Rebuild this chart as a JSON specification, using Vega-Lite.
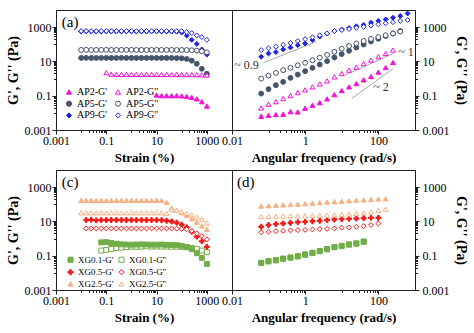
{
"$schema": "https://vega.github.io/schema/vega-lite/v6.json",
"padding": {"left": 5, "top": 8, "right": 0, "bottom": 0},
"datasets": {
"a": [
{"s":"AP2-G'","x":10,"y":0.11},{"s":"AP2-G'","x":15.8,"y":0.1},{"s":"AP2-G'","x":25.1,"y":0.1},{"s":"AP2-G'","x":39.8,"y":0.1},{"s":"AP2-G'","x":63.1,"y":0.1},{"s":"AP2-G'","x":100,"y":0.098},{"s":"AP2-G'","x":158,"y":0.09},{"s":"AP2-G'","x":251,"y":0.08},{"s":"AP2-G'","x":398,"y":0.066},{"s":"AP2-G'","x":631,"y":0.045},{"s":"AP2-G'","x":1000,"y":0.025},
{"s":"AP5-G'","x":0.01,"y":16},{"s":"AP5-G'","x":0.0158,"y":16.2},{"s":"AP5-G'","x":0.0251,"y":15.8},{"s":"AP5-G'","x":0.0398,"y":16},{"s":"AP5-G'","x":0.0631,"y":16.1},{"s":"AP5-G'","x":0.1,"y":16},{"s":"AP5-G'","x":0.158,"y":15.9},{"s":"AP5-G'","x":0.251,"y":16},{"s":"AP5-G'","x":0.398,"y":16.2},{"s":"AP5-G'","x":0.631,"y":16},{"s":"AP5-G'","x":1,"y":16},{"s":"AP5-G'","x":1.58,"y":15.9},{"s":"AP5-G'","x":2.51,"y":16},{"s":"AP5-G'","x":3.98,"y":16},{"s":"AP5-G'","x":6.31,"y":16.1},{"s":"AP5-G'","x":10,"y":16},{"s":"AP5-G'","x":15.8,"y":15.8},{"s":"AP5-G'","x":25.1,"y":16},{"s":"AP5-G'","x":39.8,"y":15.9},{"s":"AP5-G'","x":63.1,"y":15.6},{"s":"AP5-G'","x":100,"y":15.2},{"s":"AP5-G'","x":158,"y":14},{"s":"AP5-G'","x":251,"y":11},{"s":"AP5-G'","x":398,"y":7.3},{"s":"AP5-G'","x":631,"y":3.7},{"s":"AP5-G'","x":1000,"y":1.9},
{"s":"AP9-G'","x":0.01,"y":560},{"s":"AP9-G'","x":0.0158,"y":565},{"s":"AP9-G'","x":0.0251,"y":555},{"s":"AP9-G'","x":0.0398,"y":560},{"s":"AP9-G'","x":0.0631,"y":558},{"s":"AP9-G'","x":0.1,"y":562},{"s":"AP9-G'","x":0.158,"y":560},{"s":"AP9-G'","x":0.251,"y":555},{"s":"AP9-G'","x":0.398,"y":560},{"s":"AP9-G'","x":0.631,"y":565},{"s":"AP9-G'","x":1,"y":560},{"s":"AP9-G'","x":1.58,"y":558},{"s":"AP9-G'","x":2.51,"y":560},{"s":"AP9-G'","x":3.98,"y":555},{"s":"AP9-G'","x":6.31,"y":560},{"s":"AP9-G'","x":10,"y":562},{"s":"AP9-G'","x":15.8,"y":558},{"s":"AP9-G'","x":25.1,"y":555},{"s":"AP9-G'","x":39.8,"y":552},{"s":"AP9-G'","x":63.1,"y":545},{"s":"AP9-G'","x":100,"y":480},{"s":"AP9-G'","x":158,"y":320},{"s":"AP9-G'","x":251,"y":180},{"s":"AP9-G'","x":398,"y":105},{"s":"AP9-G'","x":631,"y":50},{"s":"AP9-G'","x":1000,"y":25},
{"s":"AP2-G''","x":0.1,"y":2.2},{"s":"AP2-G''","x":0.158,"y":1.8},{"s":"AP2-G''","x":0.251,"y":1.75},{"s":"AP2-G''","x":0.398,"y":1.75},{"s":"AP2-G''","x":0.631,"y":1.8},{"s":"AP2-G''","x":1,"y":1.75},{"s":"AP2-G''","x":1.58,"y":1.75},{"s":"AP2-G''","x":2.51,"y":1.75},{"s":"AP2-G''","x":3.98,"y":1.8},{"s":"AP2-G''","x":6.31,"y":1.75},{"s":"AP2-G''","x":10,"y":1.75},{"s":"AP2-G''","x":15.8,"y":1.75},{"s":"AP2-G''","x":25.1,"y":1.75},{"s":"AP2-G''","x":39.8,"y":1.7},{"s":"AP2-G''","x":63.1,"y":1.75},{"s":"AP2-G''","x":100,"y":1.7},{"s":"AP2-G''","x":158,"y":1.7},{"s":"AP2-G''","x":251,"y":1.7},{"s":"AP2-G''","x":398,"y":1.7},{"s":"AP2-G''","x":631,"y":1.65},{"s":"AP2-G''","x":1000,"y":1.6},
{"s":"AP5-G''","x":0.01,"y":47},{"s":"AP5-G''","x":0.0158,"y":47.5},{"s":"AP5-G''","x":0.0251,"y":46.5},{"s":"AP5-G''","x":0.0398,"y":47},{"s":"AP5-G''","x":0.0631,"y":47},{"s":"AP5-G''","x":0.1,"y":47.5},{"s":"AP5-G''","x":0.158,"y":47},{"s":"AP5-G''","x":0.251,"y":46.5},{"s":"AP5-G''","x":0.398,"y":47},{"s":"AP5-G''","x":0.631,"y":47},{"s":"AP5-G''","x":1,"y":47.5},{"s":"AP5-G''","x":1.58,"y":47},{"s":"AP5-G''","x":2.51,"y":47},{"s":"AP5-G''","x":3.98,"y":46.5},{"s":"AP5-G''","x":6.31,"y":47},{"s":"AP5-G''","x":10,"y":47},{"s":"AP5-G''","x":15.8,"y":47},{"s":"AP5-G''","x":25.1,"y":46.5},{"s":"AP5-G''","x":39.8,"y":47},{"s":"AP5-G''","x":63.1,"y":46.5},{"s":"AP5-G''","x":100,"y":46.5},{"s":"AP5-G''","x":158,"y":46},{"s":"AP5-G''","x":251,"y":45},{"s":"AP5-G''","x":398,"y":43},{"s":"AP5-G''","x":631,"y":39},{"s":"AP5-G''","x":1000,"y":34},
{"s":"AP9-G''","x":0.01,"y":590},{"s":"AP9-G''","x":0.0158,"y":595},{"s":"AP9-G''","x":0.0251,"y":588},{"s":"AP9-G''","x":0.0398,"y":590},{"s":"AP9-G''","x":0.0631,"y":592},{"s":"AP9-G''","x":0.1,"y":590},{"s":"AP9-G''","x":0.158,"y":588},{"s":"AP9-G''","x":0.251,"y":590},{"s":"AP9-G''","x":0.398,"y":595},{"s":"AP9-G''","x":0.631,"y":590},{"s":"AP9-G''","x":1,"y":590},{"s":"AP9-G''","x":1.58,"y":588},{"s":"AP9-G''","x":2.51,"y":590},{"s":"AP9-G''","x":3.98,"y":592},{"s":"AP9-G''","x":6.31,"y":590},{"s":"AP9-G''","x":10,"y":588},{"s":"AP9-G''","x":15.8,"y":590},{"s":"AP9-G''","x":25.1,"y":592},{"s":"AP9-G''","x":39.8,"y":588},{"s":"AP9-G''","x":63.1,"y":585},{"s":"AP9-G''","x":100,"y":583},{"s":"AP9-G''","x":158,"y":510},{"s":"AP9-G''","x":251,"y":450},{"s":"AP9-G''","x":398,"y":330},{"s":"AP9-G''","x":631,"y":262},{"s":"AP9-G''","x":1000,"y":182}
],
"b": [
{"s":"AP2-G'","x":0.0628,"y":0.0063},{"s":"AP2-G'","x":0.0995,"y":0.0072},{"s":"AP2-G'","x":0.158,"y":0.0079},{"s":"AP2-G'","x":0.25,"y":0.0083},{"s":"AP2-G'","x":0.396,"y":0.0117},{"s":"AP2-G'","x":0.628,"y":0.0113},{"s":"AP2-G'","x":0.995,"y":0.0186},{"s":"AP2-G'","x":1.58,"y":0.0278},{"s":"AP2-G'","x":2.5,"y":0.0395},{"s":"AP2-G'","x":3.96,"y":0.065},{"s":"AP2-G'","x":6.28,"y":0.116},{"s":"AP2-G'","x":9.95,"y":0.199},{"s":"AP2-G'","x":15.8,"y":0.327},{"s":"AP2-G'","x":25,"y":0.51},{"s":"AP2-G'","x":39.6,"y":0.84},{"s":"AP2-G'","x":62.8,"y":1.31},{"s":"AP2-G'","x":99.5,"y":2.37},{"s":"AP2-G'","x":158,"y":4.4},{"s":"AP2-G'","x":250,"y":8.6},
{"s":"AP5-G'","x":0.0628,"y":0.133},{"s":"AP5-G'","x":0.0995,"y":0.24},{"s":"AP5-G'","x":0.158,"y":0.41},{"s":"AP5-G'","x":0.25,"y":0.64},{"s":"AP5-G'","x":0.396,"y":1.1},{"s":"AP5-G'","x":0.628,"y":1.71},{"s":"AP5-G'","x":0.995,"y":2.7},{"s":"AP5-G'","x":1.58,"y":4.2},{"s":"AP5-G'","x":2.5,"y":6.6},{"s":"AP5-G'","x":3.96,"y":10.4},{"s":"AP5-G'","x":6.28,"y":16.9},{"s":"AP5-G'","x":9.95,"y":26.7},{"s":"AP5-G'","x":15.8,"y":41.7},{"s":"AP5-G'","x":25,"y":65},{"s":"AP5-G'","x":39.6,"y":97},{"s":"AP5-G'","x":62.8,"y":146},{"s":"AP5-G'","x":99.5,"y":209},{"s":"AP5-G'","x":158,"y":302},{"s":"AP5-G'","x":250,"y":428},{"s":"AP5-G'","x":396,"y":591},
{"s":"AP9-G'","x":0.0628,"y":18.6},{"s":"AP9-G'","x":0.0995,"y":29},{"s":"AP9-G'","x":0.158,"y":35},{"s":"AP9-G'","x":0.25,"y":50},{"s":"AP9-G'","x":0.396,"y":65},{"s":"AP9-G'","x":0.628,"y":89},{"s":"AP9-G'","x":0.995,"y":112},{"s":"AP9-G'","x":1.58,"y":178},{"s":"AP9-G'","x":2.5,"y":282},{"s":"AP9-G'","x":3.96,"y":417},{"s":"AP9-G'","x":6.28,"y":589},{"s":"AP9-G'","x":9.95,"y":724},{"s":"AP9-G'","x":15.8,"y":891},{"s":"AP9-G'","x":25,"y":1122},{"s":"AP9-G'","x":39.6,"y":1349},{"s":"AP9-G'","x":62.8,"y":1820},{"s":"AP9-G'","x":99.5,"y":2291},{"s":"AP9-G'","x":158,"y":2818},{"s":"AP9-G'","x":250,"y":3548},{"s":"AP9-G'","x":396,"y":4467},{"s":"AP9-G'","x":628,"y":6310},
{"s":"AP2-G''","x":0.0628,"y":0.0194},{"s":"AP2-G''","x":0.0995,"y":0.0318},{"s":"AP2-G''","x":0.158,"y":0.045},{"s":"AP2-G''","x":0.25,"y":0.068},{"s":"AP2-G''","x":0.396,"y":0.101},{"s":"AP2-G''","x":0.628,"y":0.152},{"s":"AP2-G''","x":0.995,"y":0.218},{"s":"AP2-G''","x":1.58,"y":0.327},{"s":"AP2-G''","x":2.5,"y":0.49},{"s":"AP2-G''","x":3.96,"y":0.73},{"s":"AP2-G''","x":6.28,"y":1.26},{"s":"AP2-G''","x":9.95,"y":1.96},{"s":"AP2-G''","x":15.8,"y":3.1},{"s":"AP2-G''","x":25,"y":4.6},{"s":"AP2-G''","x":39.6,"y":7.5},{"s":"AP2-G''","x":62.8,"y":11.9},{"s":"AP2-G''","x":99.5,"y":18.6},{"s":"AP2-G''","x":158,"y":29},{"s":"AP2-G''","x":250,"y":46},
{"s":"AP5-G''","x":0.0628,"y":1.0},{"s":"AP5-G''","x":0.0995,"y":1.48},{"s":"AP5-G''","x":0.158,"y":2.14},{"s":"AP5-G''","x":0.25,"y":3.09},{"s":"AP5-G''","x":0.396,"y":4.27},{"s":"AP5-G''","x":0.628,"y":5.89},{"s":"AP5-G''","x":0.995,"y":8.32},{"s":"AP5-G''","x":1.58,"y":11.7},{"s":"AP5-G''","x":2.5,"y":16.6},{"s":"AP5-G''","x":3.96,"y":24},{"s":"AP5-G''","x":6.28,"y":36.3},{"s":"AP5-G''","x":9.95,"y":55},{"s":"AP5-G''","x":15.8,"y":79.4},{"s":"AP5-G''","x":25,"y":112},{"s":"AP5-G''","x":39.6,"y":155},{"s":"AP5-G''","x":62.8,"y":204},{"s":"AP5-G''","x":99.5,"y":263},{"s":"AP5-G''","x":158,"y":339},{"s":"AP5-G''","x":250,"y":427},{"s":"AP5-G''","x":396,"y":550},
{"s":"AP9-G''","x":0.0628,"y":46},{"s":"AP9-G''","x":0.0995,"y":58},{"s":"AP9-G''","x":0.158,"y":72},{"s":"AP9-G''","x":0.25,"y":93},{"s":"AP9-G''","x":0.396,"y":120},{"s":"AP9-G''","x":0.628,"y":155},{"s":"AP9-G''","x":0.995,"y":200},{"s":"AP9-G''","x":1.58,"y":257},{"s":"AP9-G''","x":2.5,"y":331},{"s":"AP9-G''","x":3.96,"y":437},{"s":"AP9-G''","x":6.28,"y":589},{"s":"AP9-G''","x":9.95,"y":676},{"s":"AP9-G''","x":15.8,"y":776},{"s":"AP9-G''","x":25,"y":912},{"s":"AP9-G''","x":39.6,"y":1047},{"s":"AP9-G''","x":62.8,"y":1230},{"s":"AP9-G''","x":99.5,"y":1445},{"s":"AP9-G''","x":158,"y":1698},{"s":"AP9-G''","x":250,"y":1950},{"s":"AP9-G''","x":396,"y":2291},{"s":"AP9-G''","x":628,"y":2630}
],
"bl": [
{"x":0.0716,"y":8.3,"x2":1.97,"y2":140},
{"x":12.2,"y":1.58,"x2":255,"y2":29},
{"x":18.6,"y":0.068,"x2":255,"y2":3.85}
],
"bt": [
{"x":0.0115,"y":6.0,"t":"~ 0.9"},
{"x":350,"y":36,"t":"~ 1"},
{"x":72,"y":0.33,"t":"~ 2"}
],
"c": [
{"s":"XG0.1-G''","x":0.0631,"y":0.2},{"s":"XG0.1-G''","x":0.1,"y":0.22},{"s":"XG0.1-G''","x":0.158,"y":0.25},{"s":"XG0.1-G''","x":0.251,"y":0.28},{"s":"XG0.1-G''","x":0.398,"y":0.3},{"s":"XG0.1-G''","x":0.631,"y":0.32},{"s":"XG0.1-G''","x":1,"y":0.34},{"s":"XG0.1-G''","x":1.58,"y":0.33},{"s":"XG0.1-G''","x":2.51,"y":0.34},{"s":"XG0.1-G''","x":3.98,"y":0.35},{"s":"XG0.1-G''","x":6.31,"y":0.34},{"s":"XG0.1-G''","x":10,"y":0.34},{"s":"XG0.1-G''","x":15.8,"y":0.34},{"s":"XG0.1-G''","x":25.1,"y":0.34},{"s":"XG0.1-G''","x":39.8,"y":0.33},{"s":"XG0.1-G''","x":63.1,"y":0.33},{"s":"XG0.1-G''","x":100,"y":0.33},{"s":"XG0.1-G''","x":158,"y":0.31},{"s":"XG0.1-G''","x":251,"y":0.28},{"s":"XG0.1-G''","x":398,"y":0.25},{"s":"XG0.1-G''","x":631,"y":0.2},{"s":"XG0.1-G''","x":1000,"y":0.16},
{"s":"XG0.1-G'","x":0.0631,"y":0.6},{"s":"XG0.1-G'","x":0.1,"y":0.62},{"s":"XG0.1-G'","x":0.158,"y":0.55},{"s":"XG0.1-G'","x":0.251,"y":0.5},{"s":"XG0.1-G'","x":0.398,"y":0.46},{"s":"XG0.1-G'","x":0.631,"y":0.45},{"s":"XG0.1-G'","x":1,"y":0.44},{"s":"XG0.1-G'","x":1.58,"y":0.45},{"s":"XG0.1-G'","x":2.51,"y":0.46},{"s":"XG0.1-G'","x":3.98,"y":0.45},{"s":"XG0.1-G'","x":6.31,"y":0.44},{"s":"XG0.1-G'","x":10,"y":0.44},{"s":"XG0.1-G'","x":15.8,"y":0.45},{"s":"XG0.1-G'","x":25.1,"y":0.43},{"s":"XG0.1-G'","x":39.8,"y":0.42},{"s":"XG0.1-G'","x":63.1,"y":0.41},{"s":"XG0.1-G'","x":100,"y":0.38},{"s":"XG0.1-G'","x":158,"y":0.32},{"s":"XG0.1-G'","x":251,"y":0.24},{"s":"XG0.1-G'","x":398,"y":0.14},{"s":"XG0.1-G'","x":631,"y":0.075},{"s":"XG0.1-G'","x":1000,"y":0.033},
{"s":"XG0.5-G'","x":0.0158,"y":12},{"s":"XG0.5-G'","x":0.0251,"y":12.5},{"s":"XG0.5-G'","x":0.0398,"y":11.5},{"s":"XG0.5-G'","x":0.0631,"y":12},{"s":"XG0.5-G'","x":0.1,"y":12},{"s":"XG0.5-G'","x":0.158,"y":12},{"s":"XG0.5-G'","x":0.251,"y":12.2},{"s":"XG0.5-G'","x":0.398,"y":12},{"s":"XG0.5-G'","x":0.631,"y":12},{"s":"XG0.5-G'","x":1,"y":12},{"s":"XG0.5-G'","x":1.58,"y":12},{"s":"XG0.5-G'","x":2.51,"y":12},{"s":"XG0.5-G'","x":3.98,"y":12},{"s":"XG0.5-G'","x":6.31,"y":12},{"s":"XG0.5-G'","x":10,"y":12},{"s":"XG0.5-G'","x":15.8,"y":11.8},{"s":"XG0.5-G'","x":25.1,"y":11},{"s":"XG0.5-G'","x":39.8,"y":10},{"s":"XG0.5-G'","x":63.1,"y":8.5},{"s":"XG0.5-G'","x":100,"y":6.5},{"s":"XG0.5-G'","x":158,"y":4.5},{"s":"XG0.5-G'","x":251,"y":2.5},{"s":"XG0.5-G'","x":398,"y":1.3},{"s":"XG0.5-G'","x":631,"y":0.7},{"s":"XG0.5-G'","x":1000,"y":0.33},
{"s":"XG2.5-G'","x":0.01,"y":170},{"s":"XG2.5-G'","x":0.0158,"y":170},{"s":"XG2.5-G'","x":0.0251,"y":170},{"s":"XG2.5-G'","x":0.0398,"y":170},{"s":"XG2.5-G'","x":0.0631,"y":170},{"s":"XG2.5-G'","x":0.1,"y":170},{"s":"XG2.5-G'","x":0.158,"y":170},{"s":"XG2.5-G'","x":0.251,"y":170},{"s":"XG2.5-G'","x":0.398,"y":170},{"s":"XG2.5-G'","x":0.631,"y":170},{"s":"XG2.5-G'","x":1,"y":170},{"s":"XG2.5-G'","x":1.58,"y":170},{"s":"XG2.5-G'","x":2.51,"y":170},{"s":"XG2.5-G'","x":3.98,"y":170},{"s":"XG2.5-G'","x":6.31,"y":170},{"s":"XG2.5-G'","x":10,"y":170},{"s":"XG2.5-G'","x":15.8,"y":165},{"s":"XG2.5-G'","x":25.1,"y":130},{"s":"XG2.5-G'","x":39.8,"y":60},{"s":"XG2.5-G'","x":63.1,"y":45},{"s":"XG2.5-G'","x":100,"y":32},{"s":"XG2.5-G'","x":158,"y":22},{"s":"XG2.5-G'","x":251,"y":14},{"s":"XG2.5-G'","x":398,"y":9},{"s":"XG2.5-G'","x":631,"y":5.5},{"s":"XG2.5-G'","x":1000,"y":3.5},
{"s":"XG0.5-G''","x":0.0158,"y":3.9},{"s":"XG0.5-G''","x":0.0251,"y":3.9},{"s":"XG0.5-G''","x":0.0398,"y":3.9},{"s":"XG0.5-G''","x":0.0631,"y":3.9},{"s":"XG0.5-G''","x":0.1,"y":3.9},{"s":"XG0.5-G''","x":0.158,"y":3.9},{"s":"XG0.5-G''","x":0.251,"y":3.9},{"s":"XG0.5-G''","x":0.398,"y":3.9},{"s":"XG0.5-G''","x":0.631,"y":3.9},{"s":"XG0.5-G''","x":1,"y":3.9},{"s":"XG0.5-G''","x":1.58,"y":3.9},{"s":"XG0.5-G''","x":2.51,"y":3.9},{"s":"XG0.5-G''","x":3.98,"y":3.9},{"s":"XG0.5-G''","x":6.31,"y":3.9},{"s":"XG0.5-G''","x":10,"y":3.9},{"s":"XG0.5-G''","x":15.8,"y":3.9},{"s":"XG0.5-G''","x":25.1,"y":3.9},{"s":"XG0.5-G''","x":39.8,"y":3.9},{"s":"XG0.5-G''","x":63.1,"y":3.8},{"s":"XG0.5-G''","x":100,"y":3.7},{"s":"XG0.5-G''","x":158,"y":3.5},{"s":"XG0.5-G''","x":251,"y":2.8},{"s":"XG0.5-G''","x":398,"y":2.0},{"s":"XG0.5-G''","x":631,"y":1.4},{"s":"XG0.5-G''","x":1000,"y":0.9},
{"s":"XG2.5-G''","x":0.01,"y":32},{"s":"XG2.5-G''","x":0.0158,"y":32},{"s":"XG2.5-G''","x":0.0251,"y":32},{"s":"XG2.5-G''","x":0.0398,"y":32},{"s":"XG2.5-G''","x":0.0631,"y":32},{"s":"XG2.5-G''","x":0.1,"y":32},{"s":"XG2.5-G''","x":0.158,"y":32},{"s":"XG2.5-G''","x":0.251,"y":32},{"s":"XG2.5-G''","x":0.398,"y":32},{"s":"XG2.5-G''","x":0.631,"y":32},{"s":"XG2.5-G''","x":1,"y":32},{"s":"XG2.5-G''","x":1.58,"y":32},{"s":"XG2.5-G''","x":2.51,"y":32},{"s":"XG2.5-G''","x":3.98,"y":32},{"s":"XG2.5-G''","x":6.31,"y":32},{"s":"XG2.5-G''","x":10,"y":32},{"s":"XG2.5-G''","x":15.8,"y":32},{"s":"XG2.5-G''","x":25.1,"y":30},{"s":"XG2.5-G''","x":39.8,"y":50},{"s":"XG2.5-G''","x":63.1,"y":45},{"s":"XG2.5-G''","x":100,"y":38},{"s":"XG2.5-G''","x":158,"y":30},{"s":"XG2.5-G''","x":251,"y":24},{"s":"XG2.5-G''","x":398,"y":18},{"s":"XG2.5-G''","x":631,"y":13},{"s":"XG2.5-G''","x":1000,"y":8}
],
"d": [
{"s":"XG0.1-G''","x":0.0628,"y":0.037},{"s":"XG0.1-G''","x":0.0995,"y":0.046},{"s":"XG0.1-G''","x":0.158,"y":0.053},{"s":"XG0.1-G''","x":0.25,"y":0.065},{"s":"XG0.1-G''","x":0.396,"y":0.076},{"s":"XG0.1-G''","x":0.628,"y":0.09},{"s":"XG0.1-G''","x":0.995,"y":0.113},{"s":"XG0.1-G''","x":1.58,"y":0.142},{"s":"XG0.1-G''","x":2.5,"y":0.18},{"s":"XG0.1-G''","x":3.96,"y":0.235},{"s":"XG0.1-G''","x":6.28,"y":0.31},{"s":"XG0.1-G''","x":9.95,"y":0.36},{"s":"XG0.1-G''","x":15.8,"y":0.44},{"s":"XG0.1-G''","x":25,"y":0.5},{"s":"XG0.1-G''","x":39.6,"y":0.64},
{"s":"XG0.1-G'","x":0.0628,"y":0.039},{"s":"XG0.1-G'","x":0.0995,"y":0.049},{"s":"XG0.1-G'","x":0.158,"y":0.056},{"s":"XG0.1-G'","x":0.25,"y":0.069},{"s":"XG0.1-G'","x":0.396,"y":0.08},{"s":"XG0.1-G'","x":0.628,"y":0.095},{"s":"XG0.1-G'","x":0.995,"y":0.12},{"s":"XG0.1-G'","x":1.58,"y":0.15},{"s":"XG0.1-G'","x":2.5,"y":0.19},{"s":"XG0.1-G'","x":3.96,"y":0.25},{"s":"XG0.1-G'","x":6.28,"y":0.33},{"s":"XG0.1-G'","x":9.95,"y":0.38},{"s":"XG0.1-G'","x":15.8,"y":0.46},{"s":"XG0.1-G'","x":25,"y":0.53},{"s":"XG0.1-G'","x":39.6,"y":0.68},
{"s":"XG0.5-G'","x":0.0628,"y":4.9},{"s":"XG0.5-G'","x":0.0995,"y":6.2},{"s":"XG0.5-G'","x":0.158,"y":7.0},{"s":"XG0.5-G'","x":0.25,"y":7.6},{"s":"XG0.5-G'","x":0.396,"y":8.3},{"s":"XG0.5-G'","x":0.628,"y":9.0},{"s":"XG0.5-G'","x":0.995,"y":9.5},{"s":"XG0.5-G'","x":1.58,"y":10.2},{"s":"XG0.5-G'","x":2.5,"y":10.9},{"s":"XG0.5-G'","x":3.96,"y":12},{"s":"XG0.5-G'","x":6.28,"y":13},{"s":"XG0.5-G'","x":9.95,"y":13.6},{"s":"XG0.5-G'","x":15.8,"y":14.2},{"s":"XG0.5-G'","x":25,"y":14.8},{"s":"XG0.5-G'","x":39.6,"y":15.5},{"s":"XG0.5-G'","x":62.8,"y":16.3},{"s":"XG0.5-G'","x":99.5,"y":16.3},
{"s":"XG0.5-G''","x":0.0628,"y":2.3},{"s":"XG0.5-G''","x":0.0995,"y":2.5},{"s":"XG0.5-G''","x":0.158,"y":2.7},{"s":"XG0.5-G''","x":0.25,"y":2.8},{"s":"XG0.5-G''","x":0.396,"y":3.0},{"s":"XG0.5-G''","x":0.628,"y":3.1},{"s":"XG0.5-G''","x":0.995,"y":3.2},{"s":"XG0.5-G''","x":1.58,"y":3.4},{"s":"XG0.5-G''","x":2.5,"y":3.6},{"s":"XG0.5-G''","x":3.96,"y":3.7},{"s":"XG0.5-G''","x":6.28,"y":3.9},{"s":"XG0.5-G''","x":9.95,"y":4.3},{"s":"XG0.5-G''","x":15.8,"y":4.4},{"s":"XG0.5-G''","x":25,"y":4.9},{"s":"XG0.5-G''","x":39.6,"y":5.3},{"s":"XG0.5-G''","x":62.8,"y":6.2},{"s":"XG0.5-G''","x":99.5,"y":7.6},
{"s":"XG2.5-G'","x":0.0628,"y":78},{"s":"XG2.5-G'","x":0.0995,"y":82},{"s":"XG2.5-G'","x":0.158,"y":87},{"s":"XG2.5-G'","x":0.25,"y":91},{"s":"XG2.5-G'","x":0.396,"y":96},{"s":"XG2.5-G'","x":0.628,"y":101},{"s":"XG2.5-G'","x":0.995,"y":108},{"s":"XG2.5-G'","x":1.58,"y":115},{"s":"XG2.5-G'","x":2.5,"y":124},{"s":"XG2.5-G'","x":3.96,"y":134},{"s":"XG2.5-G'","x":6.28,"y":142},{"s":"XG2.5-G'","x":9.95,"y":150},{"s":"XG2.5-G'","x":15.8,"y":160},{"s":"XG2.5-G'","x":25,"y":170},{"s":"XG2.5-G'","x":39.6,"y":180},{"s":"XG2.5-G'","x":62.8,"y":190},{"s":"XG2.5-G'","x":99.5,"y":203},{"s":"XG2.5-G'","x":158,"y":215},
{"s":"XG2.5-G''","x":0.0628,"y":19},{"s":"XG2.5-G''","x":0.0995,"y":19.5},{"s":"XG2.5-G''","x":0.158,"y":20},{"s":"XG2.5-G''","x":0.25,"y":20.5},{"s":"XG2.5-G''","x":0.396,"y":21},{"s":"XG2.5-G''","x":0.628,"y":21},{"s":"XG2.5-G''","x":0.995,"y":21.5},{"s":"XG2.5-G''","x":1.58,"y":22},{"s":"XG2.5-G''","x":2.5,"y":22.5},{"s":"XG2.5-G''","x":3.96,"y":23},{"s":"XG2.5-G''","x":6.28,"y":24},{"s":"XG2.5-G''","x":9.95,"y":25},{"s":"XG2.5-G''","x":15.8,"y":27},{"s":"XG2.5-G''","x":25,"y":29},{"s":"XG2.5-G''","x":39.6,"y":32},{"s":"XG2.5-G''","x":62.8,"y":36},{"s":"XG2.5-G''","x":99.5,"y":44},{"s":"XG2.5-G''","x":158,"y":52}
]
},
"columns": 2,
"spacing": {"row": 40, "column": 0},
"bounds": "flush",
"concat": [
{
"width": 176, "height": 120,
"layer": [
{"data": {"values": [{}]}, "mark": {"type": "text", "text": "(a)", "align": "left", "baseline": "alphabetic", "fontSize": 15, "font": "Liberation Serif", "color": "black"},
 "encoding": {"x": {"datum": 0.0017, "type": "quantitative"}, "y": {"datum": 1000, "type": "quantitative"}}},
{"data": {"name": "a"},
"mark": {"type": "point", "filled": true, "size": 24, "strokeWidth": 1, "opacity": 1},
"encoding": {
"x": {"field": "x", "type": "quantitative", "scale": {"type": "log", "domain": [0.001, 10000]},
 "axis": {"title": "Strain (%)", "values": [0.001,0.01,0.02,0.03,0.04,0.05,0.06,0.07,0.08,0.09,0.1,1,2,3,4,5,6,7,8,9,10,100,200,300,400,500,600,700,800,900,1000], "format": "~g", "labelExpr": "indexof([0.001,0.1,10,1000], datum.value) >= 0 ? datum.label : ''", "tickSize": {"condition": {"test": "indexof([0.001,0.1,10,1000], datum.value) >= 0", "value": 4}, "value": 2.5}, "labelFlush": false, "labelOverlap": false}},
"y": {"field": "y", "type": "quantitative", "scale": {"type": "log", "domain": [0.001, 10000]},
 "axis": {"title": "G', G'' (Pa)", "values": [0.001,0.01,0.02,0.03,0.04,0.05,0.06,0.07,0.08,0.09,0.1,1,2,3,4,5,6,7,8,9,10,100,200,300,400,500,600,700,800,900,1000], "format": "~g", "labelExpr": "indexof([0.001,0.1,10,1000], datum.value) >= 0 ? datum.label : ''", "tickSize": {"condition": {"test": "indexof([0.001,0.1,10,1000], datum.value) >= 0", "value": 4}, "value": 2.5}, "labelFlush": false, "labelOverlap": false}},
"shape": {"field": "s", "type": "nominal", "scale": {"domain": ["AP2-G'","AP5-G'","AP9-G'","AP2-G''","AP5-G''","AP9-G''"], "range": ["triangle-up","circle","diamond","triangle-up","circle","diamond"]},
 "legend": {"title": null, "orient": "none", "legendX": 8, "legendY": 77, "columns": 2, "labelFont": "Liberation Serif", "labelFontSize": 10, "labelColor": "black", "symbolSize": 26, "symbolStrokeWidth": 1, "rowPadding": 1.7, "columnPadding": 5, "labelOffset": 3, "padding": 0}},
"fill": {"field": "s", "type": "nominal", "scale": {"domain": ["AP2-G'","AP5-G'","AP9-G'","AP2-G''","AP5-G''","AP9-G''"], "range": ["#F012D8","#44546A","#1F24E0","white","white","white"]},
 "legend": {"title": null, "orient": "none", "legendX": 8, "legendY": 77, "columns": 2, "labelFont": "Liberation Serif", "labelFontSize": 10, "labelColor": "black", "symbolSize": 26, "symbolStrokeWidth": 1, "rowPadding": 1.7, "columnPadding": 5, "labelOffset": 3, "padding": 0}},
"stroke": {"field": "s", "type": "nominal", "scale": {"domain": ["AP2-G'","AP5-G'","AP9-G'","AP2-G''","AP5-G''","AP9-G''"], "range": ["#F012D8","#44546A","#1F24E0","#F012D8","#44546A","#1F24E0"]},
 "legend": {"title": null, "orient": "none", "legendX": 8, "legendY": 77, "columns": 2, "labelFont": "Liberation Serif", "labelFontSize": 10, "labelColor": "black", "symbolSize": 26, "symbolStrokeWidth": 1, "rowPadding": 1.7, "columnPadding": 5, "labelOffset": 3, "padding": 0}}
}}
]
},
{
"width": 183, "height": 120,
"encoding": {
"x": {"field": "x", "type": "quantitative", "scale": {"type": "log", "domain": [0.01, 1000]},
 "axis": {"title": "Angular frequency (rad/s)", "values": [0.01,0.1,0.2,0.3,0.4,0.5,0.6,0.7,0.8,0.9,1,10,20,30,40,50,60,70,80,90,100], "format": "~g", "labelExpr": "indexof([0.01,1,100], datum.value) >= 0 ? datum.label : ''", "tickSize": {"condition": {"test": "indexof([0.01,1,100], datum.value) >= 0", "value": 4}, "value": 2.5}, "labelFlush": false, "labelOverlap": false}},
"y": {"field": "y", "type": "quantitative", "scale": {"type": "log", "domain": [0.001, 10000]},
 "axis": {"orient": "right", "title": "G', G'' (Pa)", "values": [0.001,0.01,0.02,0.03,0.04,0.05,0.06,0.07,0.08,0.09,0.1,1,2,3,4,5,6,7,8,9,10,100,200,300,400,500,600,700,800,900,1000], "format": "~g", "labelExpr": "indexof([0.001,0.1,10,1000], datum.value) >= 0 ? datum.label : ''", "tickSize": {"condition": {"test": "indexof([0.001,0.1,10,1000], datum.value) >= 0", "value": 4}, "value": 2.5}, "labelFlush": false, "labelOverlap": false, "labelPadding": 3}}
},
"layer": [
{"data": {"values": [{}]}, "mark": {"type": "text", "text": "(b)", "align": "left", "baseline": "alphabetic", "fontSize": 15, "font": "Liberation Serif", "color": "black"},
 "encoding": {"x": {"datum": 0.0137, "type": "quantitative"}, "y": {"datum": 1000, "type": "quantitative"}}},
{"data": {"name": "bl"}, "mark": {"type": "rule", "color": "#A6A6A6", "strokeWidth": 1}, "encoding": {"x2": {"field": "x2"}, "y2": {"field": "y2"}}},
{"data": {"name": "bt"}, "mark": {"type": "text", "align": "left", "baseline": "middle", "font": "Liberation Serif", "fontSize": 12, "color": "#333333"}, "encoding": {"text": {"field": "t"}}},
{"data": {"name": "b"}, "mark": {"type": "point", "filled": true, "size": 24, "strokeWidth": 1, "opacity": 1},
 "encoding": {
 "shape": {"field": "s", "type": "nominal", "scale": {"domain": ["AP2-G'","AP5-G'","AP9-G'","AP2-G''","AP5-G''","AP9-G''"], "range": ["triangle-up","circle","diamond","triangle-up","circle","diamond"]}, "legend": null},
 "fill": {"field": "s", "type": "nominal", "scale": {"domain": ["AP2-G'","AP5-G'","AP9-G'","AP2-G''","AP5-G''","AP9-G''"], "range": ["#F012D8","#44546A","#1F24E0","white","white","white"]}, "legend": null},
 "stroke": {"field": "s", "type": "nominal", "scale": {"domain": ["AP2-G'","AP5-G'","AP9-G'","AP2-G''","AP5-G''","AP9-G''"], "range": ["#F012D8","#44546A","#1F24E0","#F012D8","#44546A","#1F24E0"]}, "legend": null}
 }}
]
},
{
"width": 176, "height": 120,
"layer": [
{"data": {"values": [{}]}, "mark": {"type": "text", "text": "(c)", "align": "left", "baseline": "alphabetic", "fontSize": 15, "font": "Liberation Serif", "color": "black"},
 "encoding": {"x": {"datum": 0.0017, "type": "quantitative"}, "y": {"datum": 1000, "type": "quantitative"}}},
{"data": {"name": "c"},
"mark": {"type": "point", "filled": true, "size": 24, "strokeWidth": 1, "opacity": 1},
"encoding": {
"x": {"field": "x", "type": "quantitative", "scale": {"type": "log", "domain": [0.001, 10000]},
 "axis": {"title": "Strain (%)", "values": [0.001,0.01,0.02,0.03,0.04,0.05,0.06,0.07,0.08,0.09,0.1,1,2,3,4,5,6,7,8,9,10,100,200,300,400,500,600,700,800,900,1000], "format": "~g", "labelExpr": "indexof([0.001,0.1,10,1000], datum.value) >= 0 ? datum.label : ''", "tickSize": {"condition": {"test": "indexof([0.001,0.1,10,1000], datum.value) >= 0", "value": 4}, "value": 2.5}, "labelFlush": false, "labelOverlap": false}},
"y": {"field": "y", "type": "quantitative", "scale": {"type": "log", "domain": [0.001, 10000]},
 "axis": {"title": "G', G'' (Pa)", "values": [0.001,0.01,0.02,0.03,0.04,0.05,0.06,0.07,0.08,0.09,0.1,1,2,3,4,5,6,7,8,9,10,100,200,300,400,500,600,700,800,900,1000], "format": "~g", "labelExpr": "indexof([0.001,0.1,10,1000], datum.value) >= 0 ? datum.label : ''", "tickSize": {"condition": {"test": "indexof([0.001,0.1,10,1000], datum.value) >= 0", "value": 4}, "value": 2.5}, "labelFlush": false, "labelOverlap": false}},
"shape": {"field": "s", "type": "nominal", "scale": {"domain": ["XG0.1-G'","XG0.5-G'","XG2.5-G'","XG0.1-G''","XG0.5-G''","XG2.5-G''"], "range": ["square","M-1,-0.3H-0.3V-1H0.3V-0.3H1V0.3H0.3V1H-0.3V0.3H-1Z","triangle-up","square","diamond","triangle-up"]},
 "legend": {"title": null, "orient": "none", "legendX": 10, "legendY": 85, "columns": 2, "labelFont": "Liberation Serif", "labelFontSize": 9, "labelColor": "black", "symbolSize": 26, "symbolStrokeWidth": 1, "rowPadding": 1.7, "columnPadding": 2, "labelOffset": 3, "padding": 0}},
"fill": {"field": "s", "type": "nominal", "scale": {"domain": ["XG0.1-G'","XG0.5-G'","XG2.5-G'","XG0.1-G''","XG0.5-G''","XG2.5-G''"], "range": ["#70AD47","#F01818","#F4B183","white","white","white"]},
 "legend": {"title": null, "orient": "none", "legendX": 10, "legendY": 85, "columns": 2, "labelFont": "Liberation Serif", "labelFontSize": 9, "labelColor": "black", "symbolSize": 26, "symbolStrokeWidth": 1, "rowPadding": 1.7, "columnPadding": 2, "labelOffset": 3, "padding": 0}},
"stroke": {"field": "s", "type": "nominal", "scale": {"domain": ["XG0.1-G'","XG0.5-G'","XG2.5-G'","XG0.1-G''","XG0.5-G''","XG2.5-G''"], "range": ["#70AD47","#F01818","#F4B183","#70AD47","#F01818","#F4B183"]},
 "legend": {"title": null, "orient": "none", "legendX": 10, "legendY": 85, "columns": 2, "labelFont": "Liberation Serif", "labelFontSize": 9, "labelColor": "black", "symbolSize": 26, "symbolStrokeWidth": 1, "rowPadding": 1.7, "columnPadding": 2, "labelOffset": 3, "padding": 0}}
}}
]
},
{
"width": 183, "height": 120,
"layer": [
{"data": {"values": [{}]}, "mark": {"type": "text", "text": "(d)", "align": "left", "baseline": "alphabetic", "fontSize": 15, "font": "Liberation Serif", "color": "black"},
 "encoding": {"x": {"datum": 0.0137, "type": "quantitative"}, "y": {"datum": 1000, "type": "quantitative"}}},
{"data": {"name": "d"},
"mark": {"type": "point", "filled": true, "size": 24, "strokeWidth": 1, "opacity": 1},
"encoding": {
"x": {"field": "x", "type": "quantitative", "scale": {"type": "log", "domain": [0.01, 1000]},
 "axis": {"title": "Angular frequency (rad/s)", "values": [0.01,0.1,0.2,0.3,0.4,0.5,0.6,0.7,0.8,0.9,1,10,20,30,40,50,60,70,80,90,100], "format": "~g", "labelExpr": "indexof([0.01,1,100], datum.value) >= 0 ? datum.label : ''", "tickSize": {"condition": {"test": "indexof([0.01,1,100], datum.value) >= 0", "value": 4}, "value": 2.5}, "labelFlush": false, "labelOverlap": false}},
"y": {"field": "y", "type": "quantitative", "scale": {"type": "log", "domain": [0.001, 10000]},
 "axis": {"orient": "right", "title": "G', G'' (Pa)", "values": [0.001,0.01,0.02,0.03,0.04,0.05,0.06,0.07,0.08,0.09,0.1,1,2,3,4,5,6,7,8,9,10,100,200,300,400,500,600,700,800,900,1000], "format": "~g", "labelExpr": "indexof([0.001,0.1,10,1000], datum.value) >= 0 ? datum.label : ''", "tickSize": {"condition": {"test": "indexof([0.001,0.1,10,1000], datum.value) >= 0", "value": 4}, "value": 2.5}, "labelFlush": false, "labelOverlap": false, "labelPadding": 3}},
"shape": {"field": "s", "type": "nominal", "scale": {"domain": ["XG0.1-G'","XG0.5-G'","XG2.5-G'","XG0.1-G''","XG0.5-G''","XG2.5-G''"], "range": ["square","M-1,-0.3H-0.3V-1H0.3V-0.3H1V0.3H0.3V1H-0.3V0.3H-1Z","triangle-up","square","diamond","triangle-up"]}, "legend": null},
"fill": {"field": "s", "type": "nominal", "scale": {"domain": ["XG0.1-G'","XG0.5-G'","XG2.5-G'","XG0.1-G''","XG0.5-G''","XG2.5-G''"], "range": ["#70AD47","#F01818","#F4B183","white","white","white"]}, "legend": null},
"stroke": {"field": "s", "type": "nominal", "scale": {"domain": ["XG0.1-G'","XG0.5-G'","XG2.5-G'","XG0.1-G''","XG0.5-G''","XG2.5-G''"], "range": ["#70AD47","#F01818","#F4B183","#70AD47","#F01818","#F4B183"]}, "legend": null}
}}
]
}
],
"resolve": {"scale": {"x": "independent", "y": "independent", "shape": "independent", "fill": "independent", "stroke": "independent"}, "legend": {"shape": "independent", "fill": "independent", "stroke": "independent"}},
"config": {
"view": {"stroke": "#222222", "strokeWidth": 1},
"font": "Liberation Serif",
"axis": {"labelFont": "Liberation Serif", "labelFontSize": 12, "labelColor": "black", "titleFont": "Liberation Serif", "titleFontSize": 13, "titleFontWeight": "bold", "titleColor": "black", "domainColor": "#222222", "tickColor": "#222222", "grid": false, "labelPadding": 1, "titlePadding": 5},
"axisY": {"titleFontSize": 14, "titlePadding": 4}
}
}
